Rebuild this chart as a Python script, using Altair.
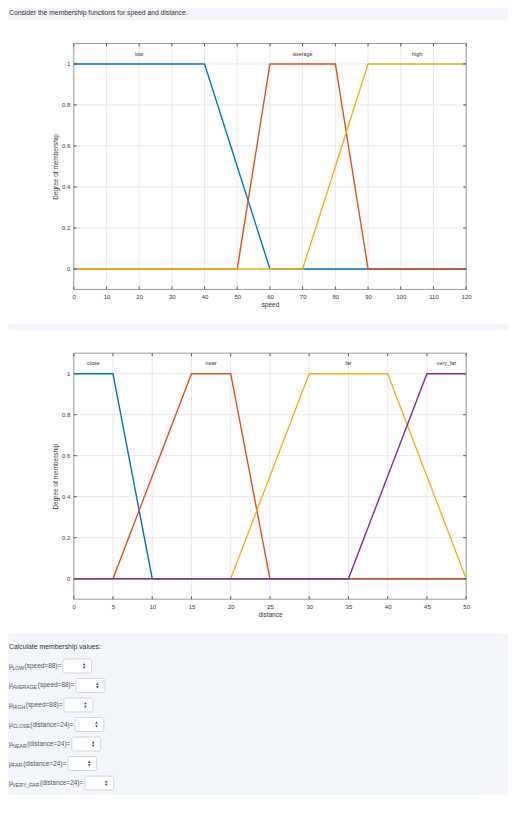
import altair as alt
import pandas as pd

# ---------------- data ----------------
header_text = "Consider the membership functions for speed and distance."
question_intro = "Calculate membership values:"

speed_names = ["low", "average", "high"]
speed_low_x = [0, 40, 60, 120]
speed_low_y = [1, 1, 0, 0]
speed_avg_x = [0, 50, 60, 80, 90, 120]
speed_avg_y = [0, 0, 1, 1, 0, 0]
speed_high_x = [0, 70, 90, 120]
speed_high_y = [0, 0, 1, 1]
speed_label_x = [20, 70, 105]

dist_names = ["close", "near", "far", "very_far"]
dist_close_x = [0, 5, 10, 50]
dist_close_y = [1, 1, 0, 0]
dist_near_x = [0, 5, 15, 20, 25, 50]
dist_near_y = [0, 0, 1, 1, 0, 0]
dist_far_x = [0, 20, 30, 40, 50]
dist_far_y = [0, 0, 1, 1, 0]
dist_vfar_x = [0, 35, 45, 50]
dist_vfar_y = [0, 0, 1, 1]
dist_label_x = [2.5, 17.5, 35, 47.5]

label_level = 1.05
speed_ticks = list(range(0, 121, 10))
dist_ticks = list(range(0, 51, 5))
y_ticks = [0, 0.2, 0.4, 0.6, 0.8, 1]

mf_colors = ["#0072BD", "#D95319", "#EDB120", "#7E2F8E"]

q_subs = ["LOW", "AVERAGE", "HIGH", "CLOSE", "NEAR", "FAR", "VERY_FAR"]
q_vars = ["speed", "speed", "speed", "distance", "distance", "distance", "distance"]
q_vals = [88, 88, 88, 24, 24, 24, 24]

# ---------------- style ----------------
FONT = "Liberation Sans"
BG = "#f2f5f9"
GRID = "#e8e8e8"
BOX = "#9a9a9a"
TICK = "#555555"
TXT = "#333333"
W, H = 394, 247
LEFT = 66          # distance from page content edge to plot left
RIGHT = 436        # white panel right edge relative to plot left

ARIAL = {" ": 278, "(": 333, ")": 333, "=": 584, "_": 556, ".": 278, ":": 278,
         "a": 556, "b": 556, "c": 500, "d": 556, "e": 556, "f": 278, "g": 556,
         "h": 556, "i": 222, "l": 222, "m": 833, "n": 556, "o": 556, "p": 556,
         "r": 333, "s": 500, "t": 278, "u": 556, "v": 500, "y": 500,
         "A": 667, "C": 722, "E": 667, "F": 611, "G": 778, "H": 722, "I": 278,
         "L": 556, "N": 722, "O": 778, "R": 722, "S": 667, "V": 667, "W": 944,
         "Y": 667}


def text_w(s, size):
    return sum(ARIAL.get(ch, 556) for ch in s) * size / 1000.0


def panel(names, xs_list, ys_list, label_x, ticks, xmax, xtitle, gap_top):
    rows = []
    for n, xs, ys in zip(names, xs_list, ys_list):
        for i, (a, b) in enumerate(zip(xs, ys)):
            rows.append({"mf": n, "x": a, "y": b, "i": i})
    df = pd.DataFrame(rows)
    lab = pd.DataFrame({"mf": names, "x": label_x, "y": [label_level] * len(names)})
    xt = pd.DataFrame({"x": ticks})
    yt = pd.DataFrame({"y": y_ticks})
    one = pd.DataFrame({"k": [0]})

    xscale = alt.Scale(domain=[0, xmax], nice=False, zero=False)
    yscale = alt.Scale(domain=[-0.1, 1.1], nice=False, zero=False)
    cscale = alt.Scale(domain=names, range=mf_colors[:len(names)])

    xaxis = alt.Axis(values=ticks, title=xtitle, grid=False, domain=False, ticks=False,
                     labelFontSize=6, labelColor=TXT, labelPadding=4, labelFont=FONT,
                     labelFlush=False, labelOverlap=False,
                     titleFontSize=6.5, titleFontWeight="normal", titleColor=TXT,
                     titleFont=FONT, titlePadding=2, zindex=1)
    yaxis = alt.Axis(values=y_ticks, format="~g", title="Degree of membership",
                     grid=False, domain=False, ticks=False,
                     labelFontSize=6, labelColor=TXT, labelPadding=4, labelFont=FONT,
                     labelFlush=False, labelOverlap=False,
                     titleFontSize=6.5, titleFontWeight="normal", titleColor=TXT,
                     titleFont=FONT, titlePadding=3, zindex=1)
    X = lambda f: alt.X(f"{f}:Q", scale=xscale, axis=xaxis)
    Y = lambda f: alt.Y(f"{f}:Q", scale=yscale, axis=yaxis)

    layers = []
    if gap_top:
        layers.append(alt.Chart(one).mark_rect(color=BG).encode(
            x=alt.value(-LEFT), x2=alt.value(RIGHT),
            y=alt.value(-29), y2=alt.value(H + 35)))
    layers.append(alt.Chart(one).mark_rect(color="white").encode(
        x=alt.value(-LEFT), x2=alt.value(RIGHT),
        y=alt.value(-23), y2=alt.value(H + 35)))
    # grid
    layers.append(alt.Chart(xt).mark_rule(color=GRID, strokeWidth=1).encode(x=X("x")))
    layers.append(alt.Chart(yt).mark_rule(color=GRID, strokeWidth=1).encode(y=Y("y")))
    # lines
    for n in names:
        layers.append(alt.Chart(df).transform_filter(alt.datum.mf == n)
                      .mark_line(strokeWidth=1.4)
                      .encode(x=X("x"), y=Y("y"),
                              color=alt.Color("mf:N", scale=cscale, legend=None),
                              order="i:Q"))
    # labels
    layers.append(alt.Chart(lab).mark_text(fontSize=5.5, color=TXT, font=FONT,
                                           baseline="middle", align="center").encode(
        x=X("x"), y=Y("y"), text="mf:N"))
    # box
    layers.append(alt.Chart(one).mark_rect(filled=False, stroke=BOX, strokeWidth=1).encode(
        x=alt.value(0), x2=alt.value(W), y=alt.value(0), y2=alt.value(H)))
    # inward ticks
    layers.append(alt.Chart(xt).mark_rule(color=TICK, strokeWidth=1).encode(
        x=X("x"), y=alt.value(H - 3), y2=alt.value(H)))
    layers.append(alt.Chart(xt).mark_rule(color=TICK, strokeWidth=1).encode(
        x=X("x"), y=alt.value(0), y2=alt.value(3)))
    layers.append(alt.Chart(yt).mark_rule(color=TICK, strokeWidth=1).encode(
        y=Y("y"), x=alt.value(0), x2=alt.value(3)))
    layers.append(alt.Chart(yt).mark_rule(color=TICK, strokeWidth=1).encode(
        y=Y("y"), x=alt.value(W - 3), x2=alt.value(W)))
    return alt.layer(*layers).properties(width=W, height=H)


p1 = panel(speed_names, [speed_low_x, speed_avg_x, speed_high_x],
           [speed_low_y, speed_avg_y, speed_high_y], speed_label_x,
           speed_ticks, 120, "speed", False)
p2 = panel(dist_names, [dist_close_x, dist_near_x, dist_far_x, dist_vfar_x],
           [dist_close_y, dist_near_y, dist_far_y, dist_vfar_y], dist_label_x,
           dist_ticks, 50, "distance", True)

# ---------------- header ----------------
header = alt.Chart(pd.DataFrame({"t": [header_text]})).mark_text(
    align="left", baseline="middle", fontSize=6.8, color=TXT, font=FONT).encode(
    x=alt.value(-LEFT + 1), y=alt.value(3.5), text="t:N").properties(width=300, height=11)

# ---------------- questions ----------------
MAIN_FS = 6.5
SUB_FS = 5.2
mu_rows, sub_rows, main_rows, box_rows, tri_rows = [], [], [], [], []
for i, (sub, var, val) in enumerate(zip(q_subs, q_vars, q_vals)):
    ry = 32 + 19.6 * i
    arg = f"({var}={val})="
    x0 = -LEFT + 1
    sub_x = x0 + 3.4
    main_x = sub_x + text_w(sub, SUB_FS) + 0.4
    box_x = main_x + text_w(arg, MAIN_FS) + 1.5
    mu_rows.append({"px": x0, "py": ry, "t": "\u03bc"})
    sub_rows.append({"px": sub_x, "py": ry + 1.6, "t": sub})
    main_rows.append({"px": main_x, "py": ry, "t": arg})
    box_rows.append({"px": box_x, "px2": box_x + 29, "py": ry - 7, "py2": ry + 7})
    tri_rows.append({"px": box_x + 21.5, "py": ry - 1.8, "s": "triangle-up"})
    tri_rows.append({"px": box_x + 21.5, "py": ry + 1.8, "s": "triangle-down"})

pxe = alt.X("px:Q", scale=None, axis=None)
pye = alt.Y("py:Q", scale=None, axis=None)

q_intro = alt.Chart(pd.DataFrame({"px": [-LEFT + 1], "py": [13], "t": [question_intro]})).mark_text(
    align="left", baseline="middle", fontSize=6.9, color=TXT, font=FONT).encode(
    x=pxe, y=pye, text="t:N")
q_mu = alt.Chart(pd.DataFrame(mu_rows)).mark_text(
    align="left", baseline="middle", fontSize=MAIN_FS, color="#555555", font=FONT).encode(
    x=pxe, y=pye, text="t:N")
q_sub = alt.Chart(pd.DataFrame(sub_rows)).mark_text(
    align="left", baseline="middle", fontSize=SUB_FS, color="#555555", font=FONT).encode(
    x=pxe, y=pye, text="t:N")
q_main = alt.Chart(pd.DataFrame(main_rows)).mark_text(
    align="left", baseline="middle", fontSize=MAIN_FS, color="#555555", font=FONT).encode(
    x=pxe, y=pye, text="t:N")
q_box = alt.Chart(pd.DataFrame(box_rows)).mark_rect(
    fill="white", stroke="#c6ccd4", strokeWidth=0.8, cornerRadius=2).encode(
    x=pxe, x2="px2:Q", y=pye, y2="py2:Q")
q_tri = alt.Chart(pd.DataFrame(tri_rows)).mark_point(
    filled=True, size=7, color="#444444", opacity=1).encode(
    x=pxe, y=pye, shape=alt.Shape("s:N", scale=None, legend=None))

questions = alt.layer(q_intro, q_mu, q_sub, q_main, q_box, q_tri).properties(
    width=300, height=160)

chart = alt.vconcat(header, p1, p2, questions, spacing=0).resolve_scale(
    color="independent").properties(padding=0, background=BG).configure_view(strokeWidth=0)

chart.save("out.html", embed_options={"renderer": "svg", "actions": False})
